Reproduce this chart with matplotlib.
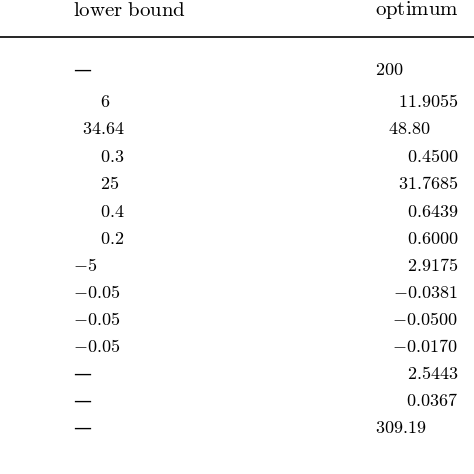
import matplotlib
matplotlib.use("Agg")
import matplotlib.pyplot as plt

plt.rcParams['mathtext.fontset'] = 'cm'

headers = ["lower bound", "optimum"]
lower = ["—", "6", "34.64", "0.3", "25", "0.4", "0.2", "-5", "-0.05", "-0.05", "-0.05", "—", "—", "—"]
lower_x = [73, 100, 82, 100, 100, 100, 100, 73, 73, 73, 73, 73, 73, 73]
optimum = ["200", "11.9055", "48.80", "0.4500", "31.7685", "0.6439", "0.6000", "2.9175",
           "-0.0381", "-0.0500", "-0.0170", "2.5443", "0.0367", "309.19"]
row_y = [70, 102, 129, 157, 184, 212, 239, 266, 293, 320, 347, 374, 401, 428]

W = H = 474
fig = plt.figure(figsize=(4.74, 4.74), dpi=100)
ax = fig.add_axes([0, 0, 1, 1])
ax.set_xlim(0, W)
ax.set_ylim(H, 0)
ax.axis("off")

def m(s):
    if s == "—":
        return s
    return "$" + s.replace(" ", r"\ ") + "$" if s[0] in "-0123456789" else r"$\mathrm{" + s.replace(" ", r"\ ") + "}$"

fs = 13
ax.text(73, 10, m(headers[0]), fontsize=15, va="center", ha="left")
ax.text(375, 10, m(headers[1]), fontsize=15, va="center", ha="left")
ax.plot([0, W], [37, 37], color="black", lw=1.2)

for s, x, y in zip(lower, lower_x, row_y):
    ax.text(x, y, m(s), fontsize=fs, va="center", ha="left")
for s, y in zip(optimum, row_y):
    if s in ("200", "309.19"):
        ax.text(375, y, m(s), fontsize=fs, va="center", ha="left")
    elif s == "48.80":
        ax.text(388, y, m(s), fontsize=fs, va="center", ha="left")
    else:
        ax.text(458, y, m(s), fontsize=fs, va="center", ha="right")

fig.savefig("out.png", dpi=100, facecolor="white")
